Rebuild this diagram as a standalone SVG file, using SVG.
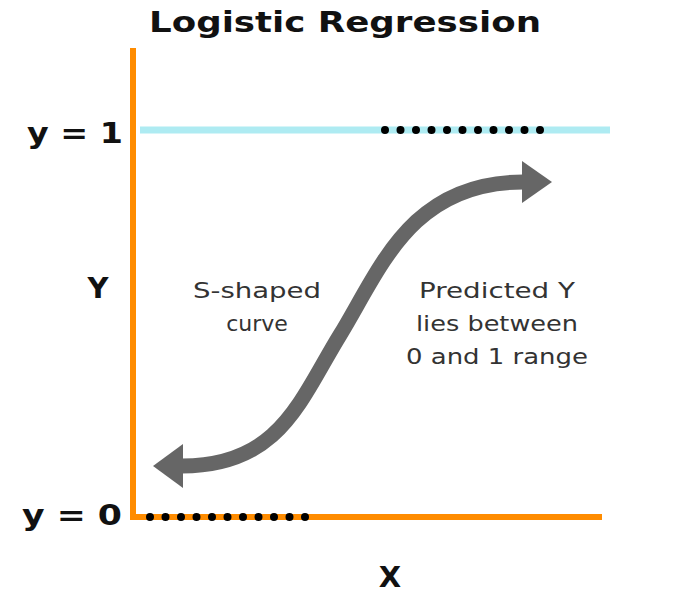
<svg xmlns="http://www.w3.org/2000/svg" width="683" height="604" viewBox="0 0 683 604">
<defs><style>
.b{font-family:"DejaVu Sans","Liberation Sans",sans-serif;font-weight:700;fill:#111}
.t{font-family:"DejaVu Sans","Liberation Sans",sans-serif;font-size:22px;fill:#333;text-anchor:middle}
</style></defs>
<rect width="683" height="604" fill="#fff"/>
<text class="b" x="345" y="32" font-size="28" text-anchor="middle" textLength="392" lengthAdjust="spacingAndGlyphs">Logistic Regression</text>
<g id="axes">
<line x1="140" y1="130" x2="610" y2="130" stroke="#AEEBF2" stroke-width="7"/>
<line x1="133" y1="48" x2="133" y2="520" stroke="#FF8C00" stroke-width="6"/>
<line x1="130" y1="517" x2="602" y2="517" stroke="#FF8C00" stroke-width="6"/>
</g>
<g id="dots">
<path d="M385,130h156" stroke="#000" stroke-width="8" stroke-linecap="round" stroke-dasharray="0 15.5"/>
<path d="M150,517h156" stroke="#000" stroke-width="8" stroke-linecap="round" stroke-dasharray="0 15.5"/>
</g>
<g id="labels">
<text class="b" x="75" y="143" font-size="29" text-anchor="middle" textLength="96" lengthAdjust="spacingAndGlyphs">y = 1</text>
<text class="b" x="98" y="298" font-size="29" text-anchor="middle">Y</text>
<text class="b" x="72" y="525" font-size="29" text-anchor="middle" textLength="100" lengthAdjust="spacingAndGlyphs">y = 0</text>
<text class="b" x="390" y="587" font-size="29" text-anchor="middle">X</text>
<text class="t" x="257" y="298" textLength="128" lengthAdjust="spacingAndGlyphs">S-shaped</text>
<text class="t" x="257" y="331">curve</text>
<text class="t" x="497" y="298" textLength="156" lengthAdjust="spacingAndGlyphs">Predicted Y</text>
<text class="t" x="497" y="331" textLength="162" lengthAdjust="spacingAndGlyphs">lies between</text>
<text class="t" x="497" y="364" textLength="182" lengthAdjust="spacingAndGlyphs">0 and 1 range</text>
</g>
<g id="connectors" fill="#666">
<path d="M182,466 C280,466 300,400 340,335 C380,270 410,182 523,182" fill="none" stroke="#666" stroke-width="15"/>
<polygon points="522,161 552,182 522,203"/>
<polygon points="183,444 153,466 183,488"/>
</g>
</svg>
